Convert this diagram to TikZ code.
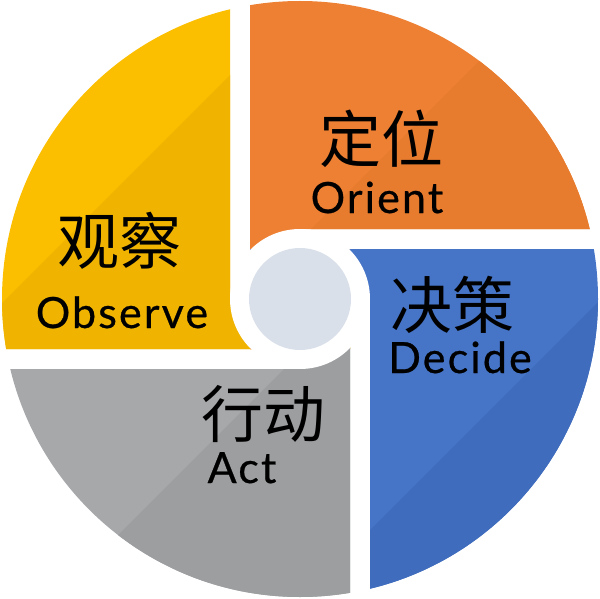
\documentclass[tikz,border=0pt]{standalone}
\usepackage{fontspec}
\setmainfont{Lato}[LetterSpace=5, FakeBold=0.6]
\newfontfamily\cjk{Noto Sans CJK SC}
\definecolor{yelL}{HTML}{FBBF00}
\definecolor{yelD}{HTML}{F0B400}
\definecolor{oraL}{HTML}{EE8033}
\definecolor{oraD}{HTML}{E77B2E}
\definecolor{bluL}{HTML}{4675C8}
\definecolor{bluD}{HTML}{3F6CBC}
\definecolor{graL}{HTML}{A7A8AA}
\definecolor{graD}{HTML}{9D9EA0}
\definecolor{hub}{HTML}{D9E0EA}
\tikzset{
  zh/.style={font=\cjk\fontsize{62}{62}\selectfont, text=black, inner sep=0pt},
  en/.style={font=\fontsize{43}{43}\selectfont, text=black, inner sep=0pt, anchor=base},
}
\newcommand{\quadpart}[4]{%
  \begin{scope}
    \clip #1;
    \fill[#2] (-50,-50) rectangle (650,650);
    \fill[#3] (#4+100,-100) -- (#4-700,700) -- (1400,700) -- (1400,-100) -- cycle;
  \end{scope}}
\begin{document}
\begin{tikzpicture}[x=1pt,y=-1pt]
\useasboundingbox (0,0) rectangle (600,599);
\fill[white] (0,0) rectangle (600,599);
\coordinate (C) at (300,299);
\begin{scope}
  \clip (C) circle[radius=298pt];
  % Observe (yellow)
  \quadpart{(-20,349) -- (-20,-20) -- (230,-20) -- (230,299) -- (350,299) -- (350,349) -- cycle}{yelL}{yelD}{305}
  % Orient (orange)
  \quadpart{(250,-20) -- (620,-20) -- (620,229) -- (300,229) -- (300,349) -- (250,349) -- cycle}{oraL}{oraD}{540}
  % Decide (blue)
  \quadpart{(620,249) -- (620,620) -- (370,620) -- (370,299) -- (250,299) -- (250,249) -- cycle}{bluL}{bluD}{900}
  % Act (gray)
  \quadpart{(350,620) -- (-20,620) -- (-20,369) -- (300,369) -- (300,249) -- (350,249) -- cycle}{graL}{graD}{653}
  \fill[white] (C) circle[radius=70pt];
\end{scope}
\node[circle, fill=hub, minimum size=102pt, inner sep=0pt] (hubc) at (C) {};
\node[zh] (obszh) at (119,241) {观察};
\node[en] (obsen) at (122,328) {Observe};
\node[zh] (orizh) at (381,139) {定位};
\node[en] (orien) at (377,213) {Orient};
\node[zh] (deczh) at (452,305) {决策};
\node[en] (decen) at (460,373) {Decide};
\node[zh] (actzh) at (263,414) {行动};
\node[en] (acten) at (242,483) {Act};
\end{tikzpicture}
\end{document}
